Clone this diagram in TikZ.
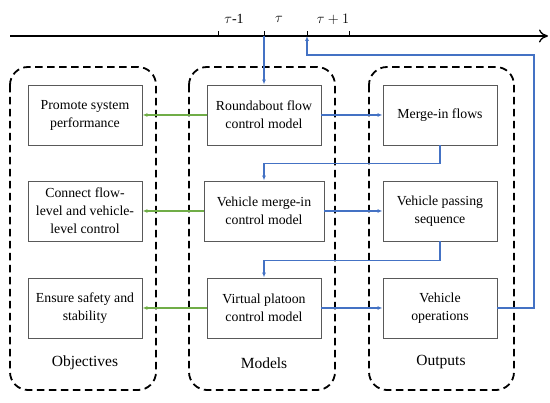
\documentclass[tikz,border=0pt]{standalone}
\usepackage{amsmath}
\usepackage{fontspec}
\setmainfont{Liberation Serif}
\usepackage{xcolor}
\usepackage{tikz}
\usetikzlibrary{arrows.meta}

\definecolor{flowblue}{HTML}{4472C4}
\definecolor{goalgreen}{HTML}{70AD47}
\definecolor{boxgray}{HTML}{595959}

\tikzset{
  blockbox/.style={draw=boxgray,line width=0.9pt,minimum height=60pt,
    align=center,inner sep=2pt,font=\fontsize{13.8}{18}\selectfont},
  groupbox/.style={draw=black,line width=1.8pt,dash pattern=on 7.5pt off 4.5pt,
    rounded corners=18pt},
  bluearrow/.style={flowblue,line width=1.2pt,-{Latex[length=5pt,width=4pt]}},
  greenarrow/.style={goalgreen,line width=1.2pt,-{Latex[length=5pt,width=4pt]}},
  grouplabel/.style={font=\fontsize{15.5}{18}\selectfont},
}

\begin{document}
\begin{tikzpicture}[x=1pt,y=-1pt]
      \useasboundingbox (0,0) rectangle (550,403);

      % time axis
      \coordinate (tstart) at (10,36);
      \coordinate (tend) at (548,36);
      \coordinate (tnow) at (264,36);
      \coordinate (tnext) at (307,36);
      \draw[line width=1.5pt,-{To[length=9pt,width=13pt,line width=1.3pt]}] (tstart) -- (tend);
      \foreach \x in {218,264,307,349}
        \draw[line width=1pt] (\x,36) -- (\x,31.5);
      \node[font=\fontsize{14}{16}\selectfont] (lprev) at (234,19) {$\tau$-1};
      \node[font=\fontsize{14}{16}\selectfont] (lnow) at (279,19) {$\tau$};
      \node[font=\fontsize{14}{16}\selectfont] (lnext) at (333,19) {$\tau+1$};

      % dashed groups
      \draw[groupbox] (10,67) rectangle (156,390);
      \draw[groupbox] (189,67) rectangle (335,390);
      \draw[groupbox] (369,67) rectangle (514,390);
      \node[grouplabel] (objl) at (85,363) {Objectives};
      \node[grouplabel] (modl) at (264,363) {Models};
      \node[grouplabel] (outl) at (441,362) {Outputs};

      % objectives
      \node[blockbox,minimum width=114pt] (obj1) at (85,115) {Promote system\\performance};
      \node[blockbox,minimum width=114pt] (obj2) at (85,211) {Connect flow-\\level and vehicle-\\level control};
      \node[blockbox,minimum width=114pt] (obj3) at (85,308) {Ensure safety and\\stability};

      % models
      \node[blockbox,minimum width=114pt] (mod1) at (264,115) {Roundabout flow\\control model};
      \node[blockbox,minimum width=120pt] (mod2) at (264,211) {Vehicle merge-in\\control model};
      \node[blockbox,minimum width=114pt] (mod3) at (264,308) {Virtual platoon\\control model};

      % outputs
      \node[blockbox,minimum width=114pt] (out1) at (440,115) {Merge-in flows};
      \node[blockbox,minimum width=114pt] (out2) at (440,211) {Vehicle passing\\sequence};
      \node[blockbox,minimum width=114pt] (out3) at (440,308) {Vehicle\\operations};

      \draw[greenarrow] (mod1) -- (obj1);
      \draw[greenarrow] (mod2) -- (obj2);
      \draw[greenarrow] (mod3) -- (obj3);
      \draw[bluearrow] (mod1) -- (out1);
      \draw[bluearrow] (mod2) -- (out2);
      \draw[bluearrow] (mod3) -- (out3);

      \draw[bluearrow] (tnow) -- (mod1.north);
      \draw[bluearrow] (out1.south) -- ++(0,18) -| (mod2.north);
      \draw[bluearrow] (out2.south) -- ++(0,19) -| (mod3.north);
      \draw[bluearrow] (out3.east) -| (534,55) -| (tnext);
    \end{tikzpicture}
\end{document}
